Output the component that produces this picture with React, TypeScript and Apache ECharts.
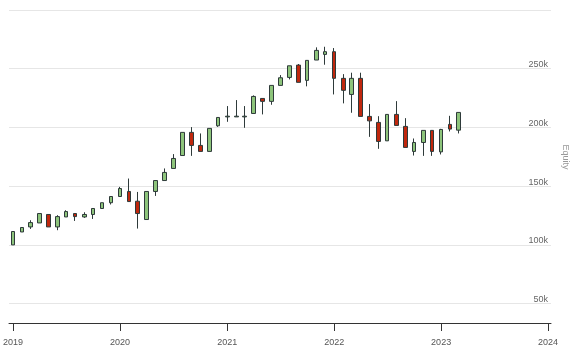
import React, { useEffect, useRef } from "react";
import * as echarts from "echarts";

const months = [
  "2019-01", "2019-02", "2019-03", "2019-04", "2019-05", "2019-06", "2019-07", "2019-08", "2019-09", "2019-10", "2019-11", "2019-12",
  "2020-01", "2020-02", "2020-03", "2020-04", "2020-05", "2020-06", "2020-07", "2020-08", "2020-09", "2020-10", "2020-11", "2020-12",
  "2021-01", "2021-02", "2021-03", "2021-04", "2021-05", "2021-06", "2021-07", "2021-08", "2021-09", "2021-10", "2021-11", "2021-12",
  "2022-01", "2022-02", "2022-03", "2022-04", "2022-05", "2022-06", "2022-07", "2022-08", "2022-09", "2022-10", "2022-11", "2022-12",
  "2023-01", "2023-02", "2023-03",
];

// values in thousands
const opens = [
  100.0, 111.0, 115.3, 118.7, 125.9, 115.3, 123.8, 126.7, 123.8, 125.9, 131.0, 135.9,
  141.2, 145.5, 137.2, 121.6, 145.5, 154.8, 165.1, 176.1, 195.8, 184.7, 179.6, 201.4,
  209.0, 209.0, 209.0, 211.9, 224.7, 222.2, 235.8, 242.6, 253.1, 240.1, 257.4, 262.2,
  264.5, 241.8, 228.1, 241.8, 209.4, 204.3, 188.6, 211.1, 200.9, 179.6, 187.2, 197.5,
  179.2, 202.6, 197.7,
];
const closes = [
  111.4, 114.8, 119.0, 126.7, 115.3, 124.1, 128.4, 124.1, 125.9, 131.0, 135.9, 141.2,
  148.0, 136.9, 126.7, 145.5, 154.8, 161.7, 173.6, 195.8, 184.7, 179.6, 199.2, 208.5,
  209.6, 209.6, 209.6, 226.4, 222.2, 235.8, 242.3, 252.5, 238.4, 257.1, 265.6, 264.5,
  241.8, 231.6, 241.8, 209.4, 205.6, 188.1, 211.1, 201.7, 183.0, 187.2, 197.5, 179.6,
  198.3, 198.6, 212.8,
];
const lows = [
  100.0, 111.0, 113.6, 118.7, 115.3, 112.5, 123.8, 120.4, 123.0, 122.1, 131.0, 134.4,
  141.2, 136.9, 113.9, 121.6, 141.7, 154.8, 165.1, 176.1, 175.8, 179.6, 179.6, 200.5,
  204.8, 209.0, 199.7, 211.9, 211.1, 219.3, 235.8, 240.9, 238.4, 235.0, 257.4, 253.4,
  228.1, 220.5, 212.5, 209.4, 192.0, 181.8, 188.6, 201.7, 183.0, 176.1, 175.8, 175.8,
  177.0, 196.6, 194.9,
];
const highs = [
  111.4, 114.8, 121.0, 126.7, 125.9, 125.3, 129.5, 126.7, 127.8, 131.0, 135.9, 141.2,
  149.4, 156.5, 145.1, 145.5, 154.8, 165.1, 177.3, 195.8, 200.3, 194.9, 199.2, 208.5,
  218.2, 223.3, 218.2, 227.3, 224.7, 235.8, 244.6, 252.5, 254.0, 257.1, 268.2, 268.7,
  267.6, 245.4, 246.6, 246.6, 219.9, 209.6, 211.1, 222.4, 207.9, 190.6, 197.5, 197.5,
  198.8, 209.9, 212.8,
];

const yearTicks = ["2019-01-01", "2020-01-01", "2021-01-01", "2022-01-01", "2023-01-01", "2024-01-01"];

const ts = (s: string) => Date.UTC(+s.slice(0, 4), +s.slice(5, 7) - 1, +s.slice(8, 10));

export default function App() {
  const ref = useRef<HTMLDivElement>(null);
  useEffect(() => {
    const chart = echarts.init(ref.current!, null, { renderer: "svg" });
    const data = months.map((m, i) => [
      ts(m + "-01"),
      opens[i] * 1000,
      closes[i] * 1000,
      lows[i] * 1000,
      highs[i] * 1000,
    ]);
    const tickVals = yearTicks.map(ts);
    chart.setOption({
      animation: false,
      grid: { left: 9, right: 29, top: 10, bottom: 37 },
      xAxis: {
        type: "value",
        min: ts("2018-12-18"),
        max: ts("2024-01-11"),
        scale: true,
        splitLine: { show: false },
        axisLine: { lineStyle: { color: "#333", width: 1 } },
        axisTick: { length: 8, lineStyle: { color: "#333" }, customValues: tickVals },
        axisLabel: {
          customValues: tickVals,
          formatter: (v: number) => String(new Date(v).getUTCFullYear()),
          color: "#555",
          fontSize: 9,
          margin: 14,
          fontFamily: "Liberation Sans",
        },
      },
      yAxis: {
        type: "value",
        position: "right",
        min: 33500,
        max: 300000,
        name: "Equity",
        nameLocation: "middle",
        nameRotate: -90,
        nameGap: 10,
        nameTextStyle: { color: "#999", fontSize: 9, fontFamily: "Liberation Sans", padding: [0, 19, 0, 0] },
        axisLine: { show: false },
        axisTick: { show: false },
        splitLine: { lineStyle: { color: "#e6e6e6" } },
        axisLabel: {
          inside: true,
          showMinLabel: false,
          showMaxLabel: false,
          formatter: (v: number) => v / 1000 + "k",
          verticalAlign: "bottom",
          margin: 3,
          color: "#666",
          fontSize: 9,
          fontFamily: "Liberation Sans",
        },
      },
      series: [
        {
          type: "candlestick",
          data,
          barWidth: 4,
          clip: false,
          itemStyle: {
            color: "#8dc47b",
            color0: "#c0270d",
            borderColor: "#2e3a3a",
            borderColor0: "#2e3a3a",
            borderWidth: 1,
          },
        },
      ],
    });
    return () => chart.dispose();
  }, []);
  return <div ref={ref} style={{ position: "fixed", left: 0, top: 0, width: 580, height: 360 }} />;
}
